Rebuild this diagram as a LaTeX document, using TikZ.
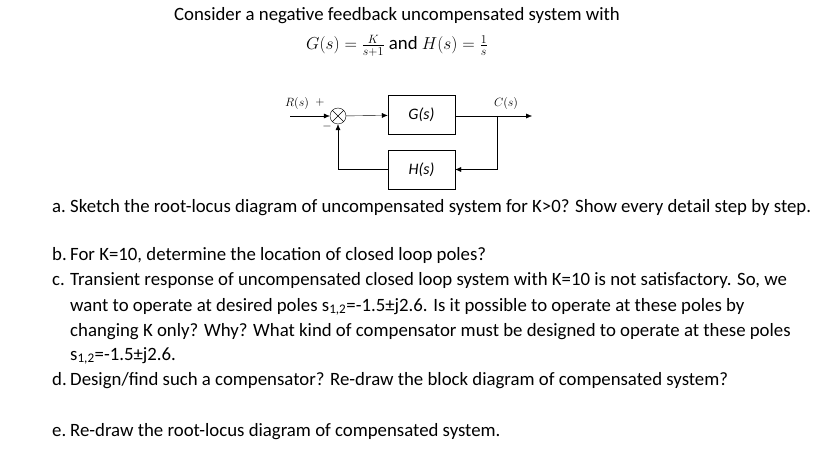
\documentclass[tikz,border=0pt]{standalone}
\usepackage{fontspec}
\setmainfont{Carlito}
\usetikzlibrary{arrows.meta}
\begin{document}
\begin{tikzpicture}[x=1pt,y=-1pt,
  txt/.style={anchor=base west,inner sep=0,font=\fontsize{18.8}{22}\selectfont},
  blk/.style={draw,minimum width=67,minimum height=39,inner sep=0,font=\fontsize{16}{18}\selectfont\itshape},
  sig/.style={font=\fontsize{12}{13}\selectfont\rmfamily,inner sep=1},
  arr/.style={-{Latex[length=6,width=5]}}]
\useasboundingbox (0,0) rectangle (839,476);
\node[txt,anchor=base] (t1) at (397,21) {Consider a negative feedback uncompensated system with};
\node[txt,anchor=base] (t2) at (397,50) {$G(s)=\frac{K}{s+1}$ and $H(s)=\frac{1}{s}$};
\node[draw,circle,minimum size=16,inner sep=0] (sum) at (338,116) {};
\draw (sum.north west)--(sum.south east) (sum.north east)--(sum.south west);
\node[blk] (G) at (421.5,115) {G(s)};
\node[blk] (H) at (421.5,169.5) {H(s)};
\coordinate (rin) at (290,116);
\coordinate (br) at (497,116);
\coordinate (out) at (532,116);
\draw[arr] (rin)--(sum);
\draw[arr] (sum)--(G);
\draw[arr] (G.east|-br)--(out);
\draw[arr] (br)|-(H);
\draw[arr] (H.west)-|(sum.south);
\node[sig] at (297,104) {$R(s)$};
\node[sig] at (320,103) {$+$};
\node[sig] at (327,127) {$-$};
\node[sig] at (506,104) {$C(s)$};
\node[txt] at (52,213) {a.};
\node[txt] at (70,213) {Sketch the root-locus diagram of uncompensated system for K>0? Show every detail step by step.};
\node[txt] at (52,261) {b.};
\node[txt] at (70,261) {For K=10, determine the location of closed loop poles?};
\node[txt] at (52,286) {c.};
\node[txt] at (70,286) {Transient response of uncompensated closed loop system with K=10 is not satisfactory. So, we};
\node[txt] at (70,311) {want to operate at desired poles s\textsubscript{1,2}=-1.5±j2.6. Is it possible to operate at these poles by};
\node[txt] at (70,336) {changing K only? Why? What kind of compensator must be designed to operate at these poles};
\node[txt] at (70,360) {s\textsubscript{1,2}=-1.5±j2.6.};
\node[txt] at (52,385) {d.};
\node[txt] at (70,385) {Design/find such a compensator? Re-draw the block diagram of compensated system?};
\node[txt] at (52,436) {e.};
\node[txt] at (70,436) {Re-draw the root-locus diagram of compensated system.};
\end{tikzpicture}
\end{document}
